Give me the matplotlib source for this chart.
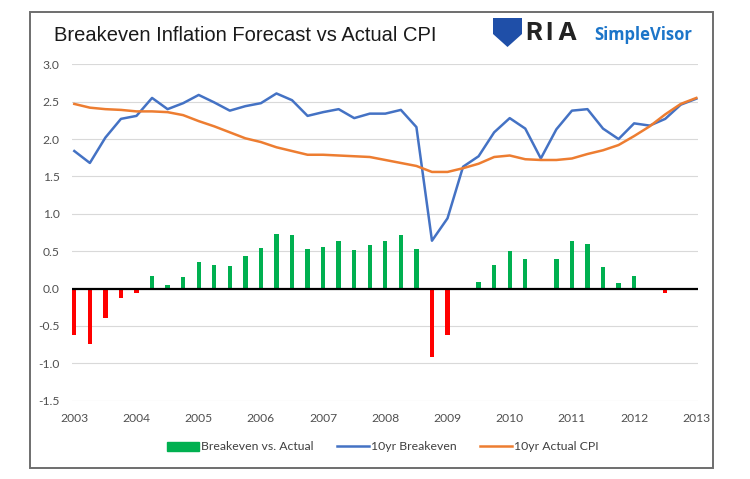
import numpy as np
import matplotlib
matplotlib.use("Agg")
import matplotlib.pyplot as plt
from matplotlib.patches import Rectangle, Polygon, Patch
from matplotlib.lines import Line2D

# quarterly points, 2003Q1 .. 2013Q1
quarters = 2003 + np.arange(41) / 4
year_ticks = list(range(2003, 2014))

breakeven = [1.84, 1.68, 2.02, 2.27, 2.31, 2.55, 2.40, 2.48, 2.59, 2.49,
             2.38, 2.44, 2.48, 2.61, 2.52, 2.31, 2.36, 2.40, 2.28, 2.34,
             2.34, 2.39, 2.16, 0.64, 0.94, 1.63, 1.77, 2.09, 2.28, 2.14,
             1.74, 2.13, 2.38, 2.40, 2.14, 2.00, 2.21, 2.18, 2.27, 2.46,
             2.54]
actual_cpi = [2.47, 2.42, 2.40, 2.39, 2.37, 2.37, 2.36, 2.32, 2.24, 2.17,
              2.09, 2.01, 1.96, 1.89, 1.84, 1.79, 1.79, 1.78, 1.77, 1.76,
              1.72, 1.68, 1.64, 1.56, 1.56, 1.61, 1.67, 1.76, 1.78, 1.73,
              1.72, 1.72, 1.74, 1.80, 1.85, 1.92, 2.04, 2.17, 2.33, 2.47,
              2.55]
diff = [-0.62, -0.74, -0.39, -0.12, -0.06, 0.17, 0.05, 0.16, 0.35, 0.32,
        0.30, 0.43, 0.54, 0.73, 0.71, 0.53, 0.56, 0.63, 0.52, 0.58,
        0.63, 0.72, 0.53, -0.91, -0.62, 0.0, 0.09, 0.32, 0.50, 0.40,
        0.0, 0.40, 0.64, 0.60, 0.29, 0.07, 0.17, 0.0, -0.06, 0.0,
        0.0]

W, H = 750, 479
fig = plt.figure(figsize=(W / 100, H / 100), dpi=100)

# outer frame
fig.patches.append(Rectangle((30 / W, 1 - 468 / H), 683 / W, 456 / H,
                             transform=fig.transFigure, fill=False,
                             edgecolor="#6e6e6e", linewidth=1.4))

ax = fig.add_axes([72 / W, 1 - 400.7 / H, 626 / W, 336.4 / H])

bar_colors = ["#00B050" if v >= 0 else "#FF0000" for v in diff]
ax.bar(quarters, diff, width=0.07, color=bar_colors, zorder=2)
ax.axhline(0, color="black", linewidth=1.6, zorder=3)
ax.plot(quarters, breakeven, color="#4472C4", linewidth=1.8, zorder=4)
ax.plot(quarters, actual_cpi, color="#ED7D31", linewidth=1.8, zorder=5)

ax.set_xlim(2002.963, 2013.027)
ax.set_ylim(-1.5, 3.0)
ax.set_yticks(np.arange(-1.5, 3.01, 0.5))
ax.set_yticklabels([f"{v:.1f}" for v in np.arange(-1.5, 3.01, 0.5)])
ax.set_xticks(year_ticks)
ax.set_xticklabels([str(y) for y in year_ticks])
ax.grid(axis="y", color="#D9D9D9", linewidth=0.8, zorder=0)
ax.set_axisbelow(True)
for s in ax.spines.values():
    s.set_visible(False)
ax.tick_params(length=0, colors="#505050", labelsize=8.7)
ax.tick_params(axis="y", pad=9)
ax.tick_params(axis="x", pad=9)
for lab in ax.get_xticklabels() + ax.get_yticklabels():
    lab.set_fontfamily("Lato")

handles = [Patch(color="#00B050"),
           Line2D([], [], color="#4472C4", linewidth=1.8),
           Line2D([], [], color="#ED7D31", linewidth=1.8)]
labels = ["Breakeven vs. Actual", "10yr Breakeven", "10yr Actual CPI"]
fig.legend(handles, labels, loc="center", bbox_to_anchor=(383 / W, 1 - 447 / H),
           ncol=3, frameon=False, prop={"family": "Lato", "size": 8.8},
           labelcolor="#404040", handlelength=2.6, handletextpad=0.2,
           columnspacing=1.9)

fig.text(54 / W, 1 - 41.3 / H, "Breakeven Inflation Forecast vs Actual CPI",
         fontfamily="Liberation Sans", fontsize=14.5, color="#1a1a1a",
         va="baseline", ha="left")

# logo
shield = [(493, 18), (522, 18), (522, 34), (507.5, 47), (493, 34)]
fig.patches.append(Polygon([(x / W, 1 - y / H) for x, y in shield],
                           closed=True, transform=fig.transFigure,
                           facecolor="#1f4fa8", edgecolor="none"))
for letter, lx in [("R", 525), ("I", 545), ("A", 557)]:
    fig.text(lx / W, 1 - 40.5 / H, letter, fontfamily="Inter",
             fontweight="bold", fontsize=18.5, color="#232323",
             va="baseline")
fig.text(594 / W, 1 - 40 / H, "SimpleVisor", fontfamily="Open Sans",
         fontweight="bold", fontsize=12, color="#1C75C9", va="baseline")

fig.savefig("out.png", dpi=100)
